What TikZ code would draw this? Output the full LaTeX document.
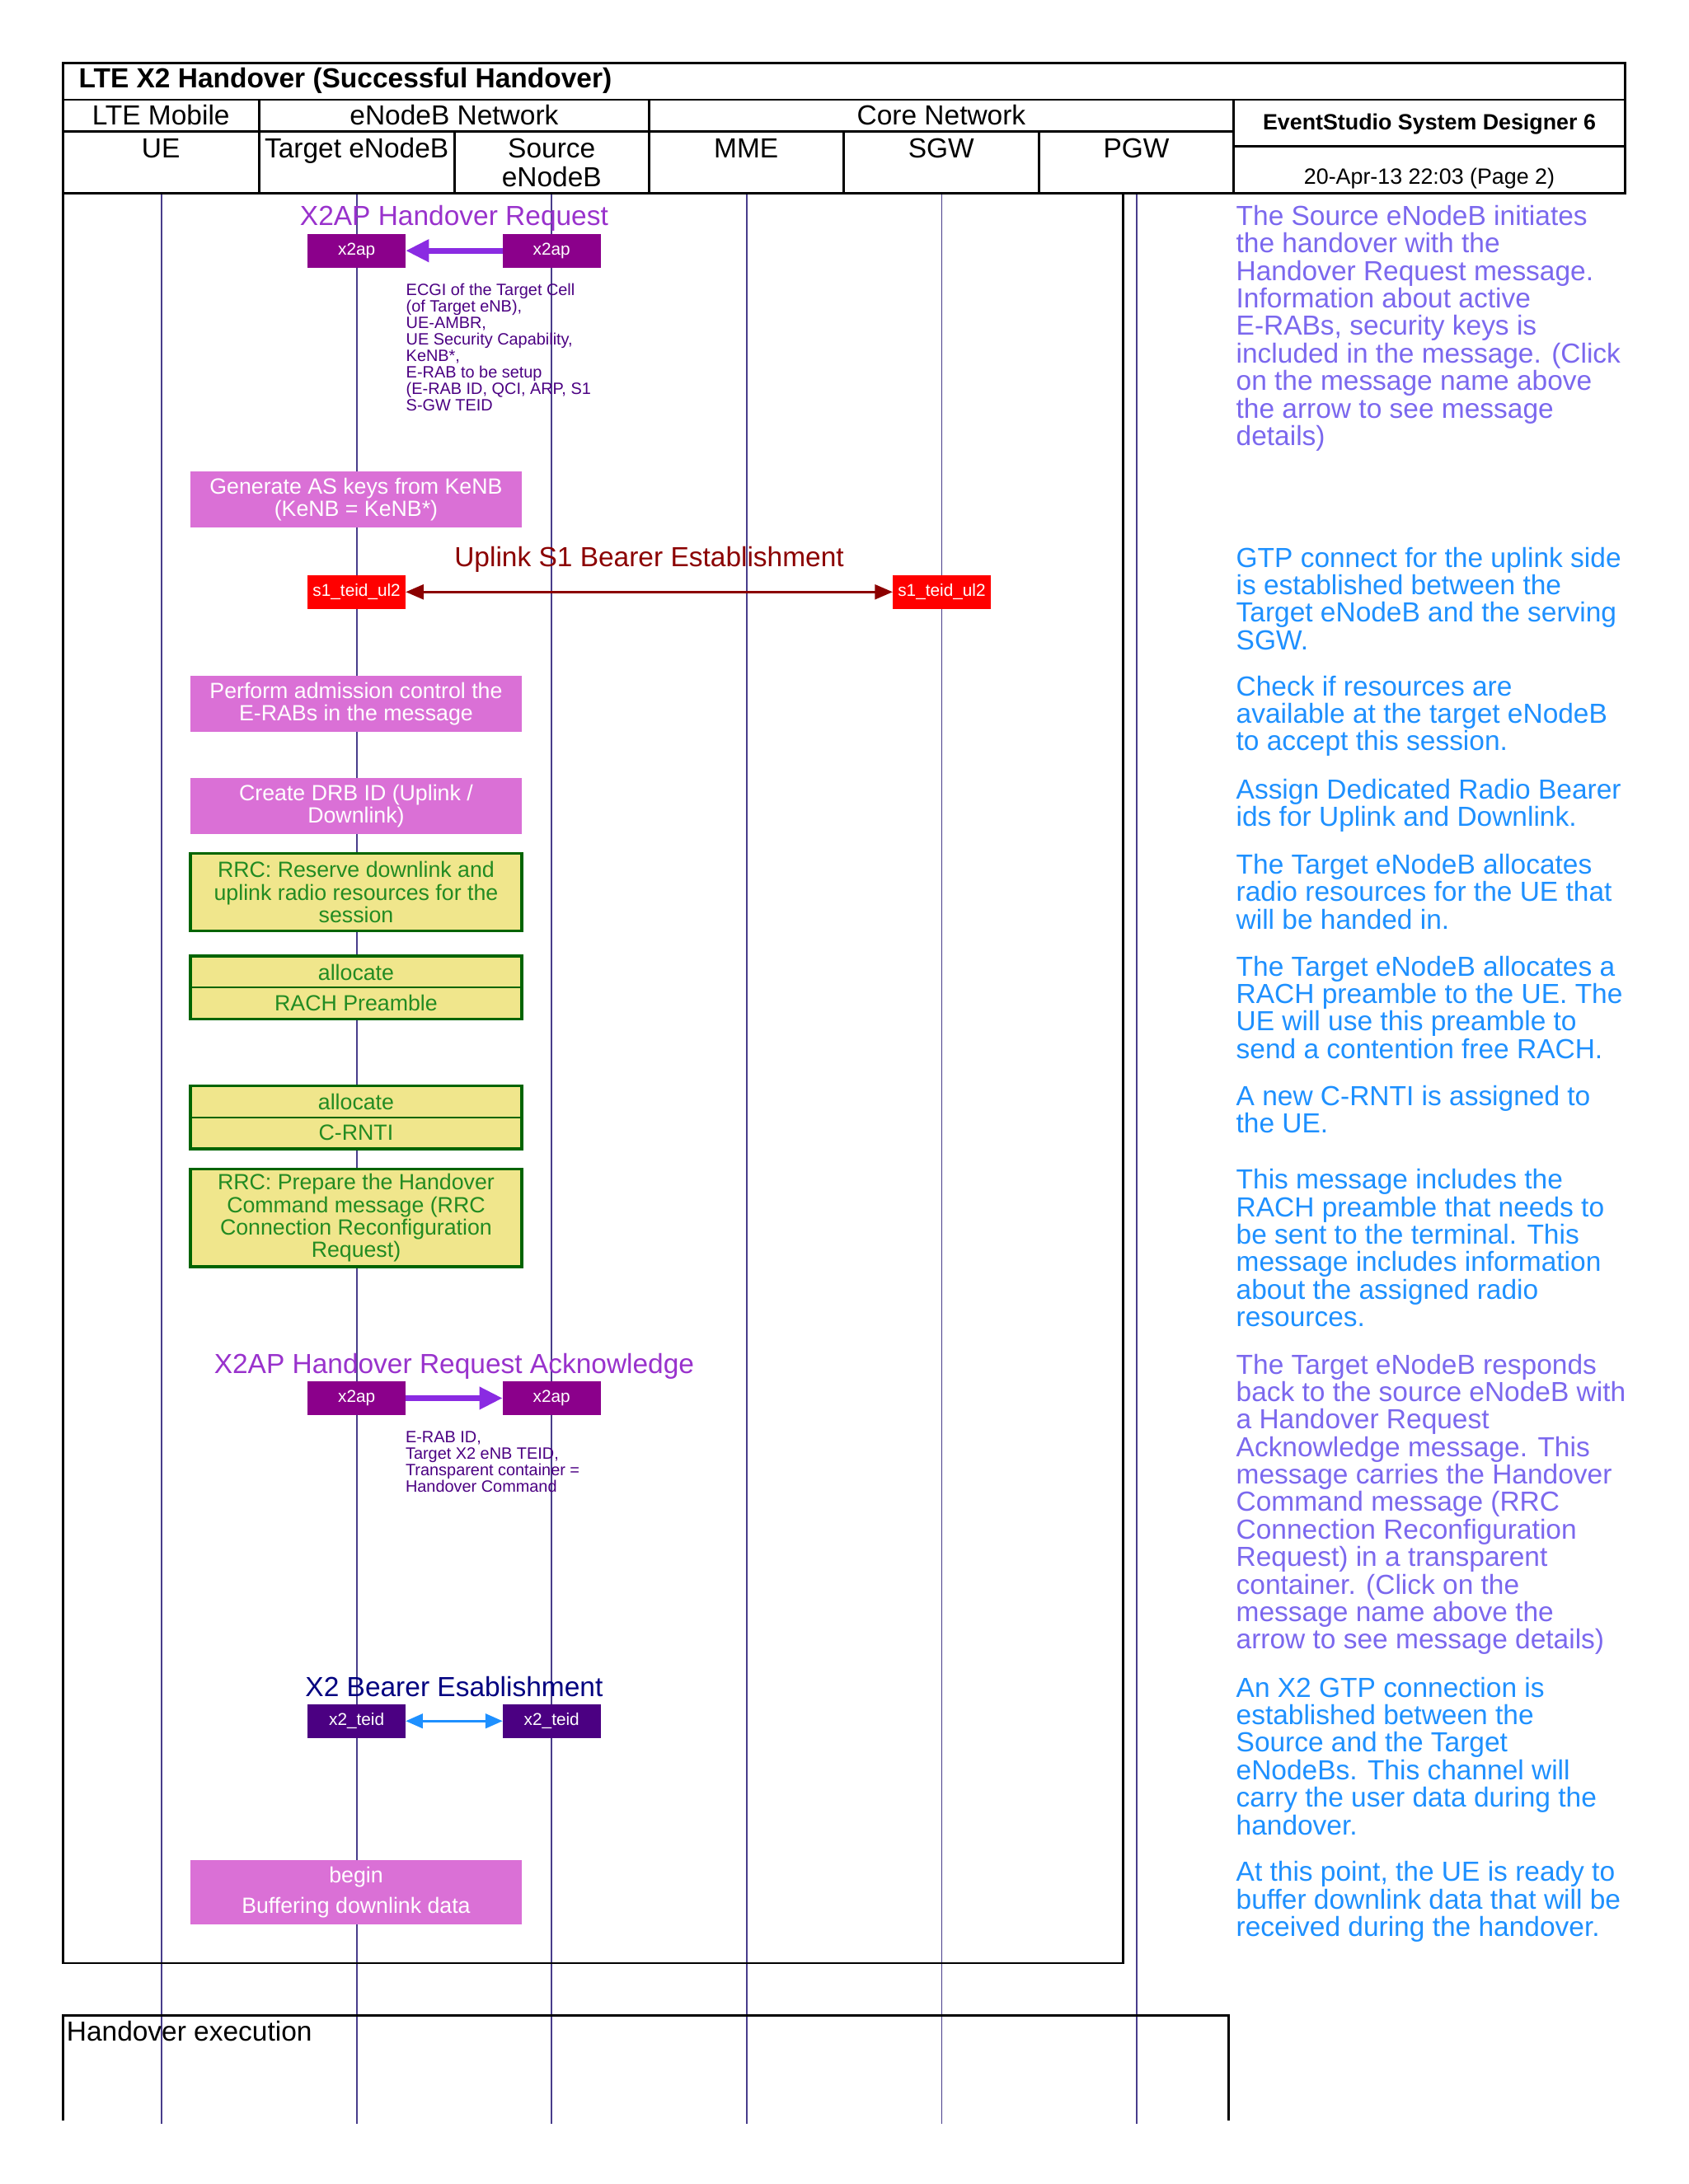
\documentclass[tikz,border=0pt]{standalone}
\usepackage{fontspec}
\setmainfont{Liberation Sans}
\usetikzlibrary{arrows.meta}
\definecolor{reqpurple}{RGB}{153,50,204}
\definecolor{notepurple}{RGB}{123,104,238}
\definecolor{noteblue}{RGB}{30,144,255}
\definecolor{msgbox}{RGB}{139,0,139}
\definecolor{msgarrow}{RGB}{138,43,226}
\definecolor{paramtext}{RGB}{75,0,130}
\definecolor{actfill}{RGB}{218,112,214}
\definecolor{rrcfill}{RGB}{240,230,140}
\definecolor{rrcline}{RGB}{0,100,0}
\definecolor{rrctext}{RGB}{34,139,34}
\definecolor{bearerred}{RGB}{139,0,0}
\definecolor{tunnelbox}{RGB}{75,0,130}
\definecolor{tunneltext}{RGB}{0,0,128}
\definecolor{lifeline}{RGB}{72,61,139}

\begin{document}
\begin{tikzpicture}[x=0.2mm,y=-0.2mm,>/.tip={Triangle},
	frame/.style={line width=1pt},
	life/.style={draw=lifeline,line width=0.6pt},
	hdr/.style={font=\fontsize{11.27pt}{11.7pt}\selectfont,anchor=base,align=center,inner sep=0pt},
	stamp/.style={font=\fontsize{9.03pt}{10pt}\selectfont,anchor=base,inner sep=0pt},
	title/.style={font=\fontsize{11.27pt}{11.24pt}\selectfont,anchor=base,inner sep=0pt},
	note/.style={font=\fontsize{11.27pt}{11.24pt}\selectfont,anchor=base west,align=left,inner sep=0pt},
	param/.style={font=\fontsize{6.7pt}{6.73pt}\selectfont,text=paramtext,anchor=base west,align=left,inner sep=0pt},
	msg/.style={shape=rectangle,fill=msgbox,text=white,font=\fontsize{7pt}{8pt}\selectfont,minimum width=40.1pt,minimum height=13.8pt,inner sep=0pt,outer sep=0pt},
	act/.style={shape=rectangle,fill=actfill,text=white,font=\fontsize{9pt}{9.2pt}\selectfont,align=center,minimum width=135.4pt,minimum height=23pt,inner sep=0pt},
	rrc/.style={act,fill=rrcfill,draw=rrcline,line width=1.1pt,text=rrctext},
	reqarrow/.style={draw=msgarrow,line width=2.3pt,>/.tip={Triangle[length=9.5pt,width=8.8pt]}},
	ularrow/.style={draw=bearerred,line width=1pt,>/.tip={Triangle[length=7.3pt,width=6pt]}},
	x2arrow/.style={draw=noteblue,line width=1pt,>/.tip={Triangle[length=7pt,width=5.9pt]}}]
	\useasboundingbox (0,0) rectangle (1212,1568);
	\foreach \x in {116,256,396,536,676,816}
		\draw[life] (\x,138.5) -- (\x,1524.8);
	\draw[frame] (45.3,45) rectangle (1166.4,138.5);
	\draw[frame] (45.3,71.6) -- (1166.4,71.6);
	\draw[frame] (45.3,94.3) -- (885.7,94.3);
	\draw[frame] (885.7,105.1) -- (1166.4,105.1);
	\foreach \x in {185.8,465.7,885.7}
		\draw[frame] (\x,71.6) -- (\x,138.5);
	\foreach \x in {326.1,605.4,745.7}
		\draw[frame] (\x,94.3) -- (\x,138.5);
	\draw (56.2,63.1) node (hdtitle) [hdr,anchor=base west,font=\fontsize{11.27pt}{13.8pt}\selectfont\bfseries] {LTE X2 Handover (Successful Handover)};
	\draw (115.5,89.8) node (mobile) [hdr] {LTE Mobile};
	\draw (326,89.8) node (enbnet) [hdr] {eNodeB Network};
	\draw (675.7,89.8) node (corenet) [hdr] {Core Network};
	\draw (115.5,113.4) node (ue) [hdr] {UE};
	\draw (256,113.4) node (tenb) [hdr] {Target eNodeB};
	\draw (396,134) node (senb) [hdr] {Source\\eNodeB};
	\draw (535.6,113.4) node (mme) [hdr] {MME};
	\draw (675.6,113.4) node (sgw) [hdr] {SGW};
	\draw (815.7,113.4) node (pgw) [hdr] {PGW};
	\draw (1026,93.1) node (tool) [stamp,font=\fontsize{9.03pt}{10pt}\selectfont\bfseries] {EventStudio System Designer 6};
	\draw (1026,132.2) node (date) [stamp] {20-Apr-13 22:03 (Page 2)};
	\draw[frame] (45.3,138.5) -- (45.3,1409.4) -- (806,1409.4) -- (806,138.5);
	\draw[frame] (45.3,1522.5) -- (45.3,1447) -- (882,1447) -- (882,1522.5);
	\draw (47.5,1465.3) node (hoexec) [hdr,anchor=base west] {Handover execution};

	\draw (326,161.8) node (horeq) [title,text=reqpurple] {X2AP Handover Request};
	\draw (256,180) node (treq) [msg] {x2ap};
	\draw (396,180) node (sreq) [msg] {x2ap};
	\draw[reqarrow,->] (sreq.west) -- (treq.east);
	\draw (291.2,294.9) node (reqie) [param] {ECGI of the Target Cell\\(of Target eNB),\\UE-AMBR,\\UE Security Capability,\\KeNB*,\\E-RAB to be setup\\(E-RAB ID, QCI, ARP, S1\\S-GW TEID};
	\draw (255.6,358.5) node (askeys) [act] {Generate AS keys from KeNB\\(KeNB = KeNB*)};
	\draw (466,407) node (ulbearer) [title,text=bearerred] {Uplink S1 Bearer Establishment};
	\draw (256,425) node (tul) [msg,fill=red] {s1\_teid\_ul2};
	\draw (676,425) node (sgwul) [msg,fill=red] {s1\_teid\_ul2};
	\draw[ularrow,<->] (tul.east) -- (sgwul.west);
	\draw (255.6,505.5) node (admit) [act] {Perform admission control the\\E-RABs in the message};
	\draw (255.6,578.6) node (drb) [act] {Create DRB ID (Uplink /\\Downlink)};
	\draw (255.6,640.5) node (reserve) [rrc,minimum height=31.6pt] {RRC: Reserve downlink and\\uplink radio resources for the\\session};
	\draw (255.6,709) node (rach) [rrc,minimum height=25.8pt,font=\fontsize{9pt}{12.4pt}\selectfont] {allocate\\RACH Preamble};
	\draw[draw=rrcline,line width=0.6pt] (rach.west) -- (rach.east);
	\draw (255.6,802.2) node (crnti) [rrc,minimum height=25.8pt,font=\fontsize{9pt}{12.4pt}\selectfont] {allocate\\C-RNTI};
	\draw[draw=rrcline,line width=0.6pt] (crnti.west) -- (crnti.east);
	\draw (255.6,874.4) node (hocmd) [rrc,minimum height=39.9pt] {RRC: Prepare the Handover\\Command message (RRC\\Connection Reconfiguration\\Request)};

	\draw (326,986.3) node (hoack) [title,text=reqpurple] {X2AP Handover Request Acknowledge};
	\draw (256,1003.8) node (tack) [msg] {x2ap};
	\draw (396,1003.8) node (sack) [msg] {x2ap};
	\draw[reqarrow,->] (tack.east) -- (sack.west);
	\draw (290.8,1071.5) node (ackie) [param] {E-RAB ID,\\Target X2 eNB TEID,\\Transparent container =\\Handover Command};
	\draw (326,1218) node (x2bearer) [title,text=tunneltext] {X2 Bearer Esablishment};
	\draw (256,1235.6) node (tx2) [msg,fill=tunnelbox] {x2\_teid};
	\draw (396,1235.6) node (sx2) [msg,fill=tunnelbox] {x2\_teid};
	\draw[x2arrow,<->] (tx2.east) -- (sx2.west);
	\draw (255.6,1358.7) node (buffer) [act,minimum height=26.3pt,font=\fontsize{9pt}{12.35pt}\selectfont] {begin\\Buffering downlink data};

	\draw (887,319.8) node (n1) [note,text=notepurple] {The Source eNodeB initiates\\the handover with the\\Handover Request message.\\Information about active\\E-RABs, security keys is\\included in the message. (Click\\on the message name above\\the arrow to see message\\details)};
	\draw (887,466.45) node (n2) [note,text=noteblue] {GTP connect for the uplink side\\is established between the\\Target eNodeB and the serving\\SGW.};
	\draw (887,539) node (n3) [note,text=noteblue] {Check if resources are\\available at the target eNodeB\\to accept this session.};
	\draw (887,593.25) node (n4) [note,text=noteblue] {Assign Dedicated Radio Bearer\\ids for Uplink and Downlink.};
	\draw (887,666.9) node (n5) [note,text=noteblue] {The Target eNodeB allocates\\radio resources for the UE that\\will be handed in.};
	\draw (887,759.95) node (n6) [note,text=noteblue] {The Target eNodeB allocates a\\RACH preamble to the UE. The\\UE will use this preamble to\\send a contention free RACH.};
	\draw (887,813.25) node (n7) [note,text=noteblue] {A new C-RNTI is assigned to\\the UE.};
	\draw (887,952.45) node (n8) [note,text=noteblue] {This message includes the\\RACH preamble that needs to\\be sent to the terminal. This\\message includes information\\about the assigned radio\\resources.};
	\draw (887,1183.9) node (n9) [note,text=notepurple] {The Target eNodeB responds\\back to the source eNodeB with\\a Handover Request\\Acknowledge message. This\\message carries the Handover\\Command message (RRC\\Connection Reconfiguration\\Request) in a transparent\\container. (Click on the\\message name above the\\arrow to see message details)};
	\draw (887,1317.15) node (n10) [note,text=noteblue] {An X2 GTP connection is\\established between the\\Source and the Target\\eNodeBs. This channel will\\carry the user data during the\\handover.};
	\draw (887,1390.3) node (n11) [note,text=noteblue] {At this point, the UE is ready to\\buffer downlink data that will be\\received during the handover.};
\end{tikzpicture}
\end{document}
